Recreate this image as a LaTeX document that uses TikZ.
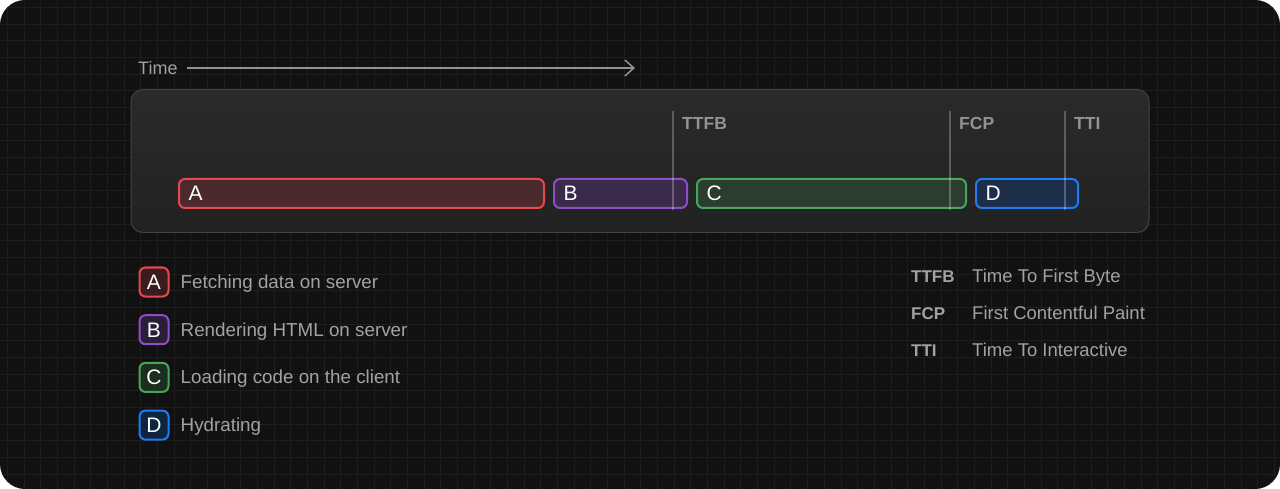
\documentclass[tikz,border=0pt]{standalone}
\usepackage{fontspec}
\setmainfont{Liberation Sans}
\usepackage{xcolor}
\usepackage{tikz}
\usetikzlibrary{positioning, arrows.meta}

\definecolor{bgdark}{HTML}{111111}
\definecolor{gridline}{HTML}{1E1E1E}
\definecolor{paneltop}{HTML}{2A2A2A}
\definecolor{panelbot}{HTML}{222222}
\definecolor{panelline}{HTML}{434343}
\definecolor{softgray}{HTML}{A2A2A2}
\definecolor{markgray}{HTML}{939393}
\definecolor{ared}{HTML}{E5484D}
\definecolor{aredfill}{HTML}{4A2A2D}
\definecolor{aredkey}{HTML}{3A1C1F}
\definecolor{bpurple}{HTML}{8E4EC6}
\definecolor{bpurplefill}{HTML}{3A2B4A}
\definecolor{bpurplekey}{HTML}{2A1E3A}
\definecolor{cgreen}{HTML}{46A758}
\definecolor{cgreenfill}{HTML}{2B3D2E}
\definecolor{cgreenkey}{HTML}{1B2E1F}
\definecolor{dblue}{HTML}{1F7CF0}
\definecolor{dbluefill}{HTML}{1C2E4A}
\definecolor{dbluekey}{HTML}{0F2440}

\begin{document}
\begin{tikzpicture}[x=1pt, y=-1pt,
    bar/.style={draw, line width=2pt, rounded corners=6pt, minimum height=29pt, inner sep=0pt},
    barletter/.style={text=white, font=\fontsize{21}{24}\selectfont, inner sep=0pt, text height=15pt, text depth=0pt},
    keybox/.style={draw, line width=2pt, rounded corners=6pt, minimum size=29pt, inner sep=0pt, text=white, font=\fontsize{21}{24}\selectfont, text height=15pt, text depth=0pt},
    legendtext/.style={text=softgray, font=\fontsize{18.8}{22}\selectfont, inner sep=0pt, text height=13pt, text depth=0pt},
    marker/.style={draw=white, draw opacity=0.25, line width=2pt},
    markerlabel/.style={text=markgray, font=\bfseries\fontsize{17.5}{21}\selectfont, inner sep=0pt, anchor=base west},
    abbrev/.style={text=softgray, font=\bfseries\fontsize{17}{21}\selectfont, inner sep=0pt, anchor=base west},
    meaning/.style={text=softgray, font=\fontsize{18.5}{22}\selectfont, inner sep=0pt, anchor=base west}]
    \useasboundingbox (0,0) rectangle (1280,489);

    % dark card with grid
    \fill[white] (0,0) rectangle (1280,489);
    \begin{scope}
        \clip[rounded corners=25pt] (0,0) rectangle (1280,489);
        \fill[bgdark] (0,0) rectangle (1280,489);
        \foreach \i in {0,...,76} \draw[gridline, line width=1pt] (7.5+\i*16.67,0) -- ++(0,489);
        \foreach \j in {0,...,29} \draw[gridline, line width=1pt] (0,7.5+\j*16.67) -- ++(1280,0);
    \end{scope}

    % time axis
    \node (time) [anchor=base west, inner sep=0pt, text=softgray, font=\fontsize{18}{22}\selectfont] at (138,75) {Time};
    \coordinate (timeend) at (635,68);
    \draw[markgray, line width=1.5pt, -{Straight Barb[length=9pt, width=16pt, line width=1.5pt]}] ([xshift=9pt]time.east |- timeend) -- (timeend);

    % panel
    \node (panel) [draw=panelline, line width=1pt, rounded corners=12pt, top color=paneltop, bottom color=panelbot, minimum width=1018pt, minimum height=143pt] at (640,161) {};

    % bars
    \node (barA) [bar, draw=ared, fill=aredfill, minimum width=365pt] at (361.5,193.5) {};
    \node (barB) [bar, draw=bpurple, fill=bpurplefill, minimum width=133pt] at (620.5,193.5) {};
    \node (barC) [bar, draw=cgreen, fill=cgreenfill, minimum width=269pt] at (831.5,193.5) {};
    \node (barD) [bar, draw=dblue, fill=dbluefill, minimum width=102pt] at (1027,193.5) {};
    \foreach \b in {A,B,C,D}
        \node (letter\b) [barletter, right=10.5pt of bar\b.west] {\b};

    % milestones
    \foreach \x/\name/\lbl in {673/ttfb/TTFB, 950/fcp/FCP, 1065/tti/TTI} {
        \coordinate (\name top) at (\x,111);
        \coordinate (\name bot) at (\x,210);
        \draw[marker] (\name top) -- (\name bot);
        \node (\name lbl) [markerlabel] at (\x+9,129.3) {\lbl};
    }

    % legend, phases
    \foreach \l/\txt/\c [count=\i] in {A/Fetching data on server/ared, B/Rendering HTML on server/bpurple,
                                       C/Loading code on the client/cgreen, D/Hydrating/dblue} {
        \node (key\l) [keybox, draw=\c, fill=\c key] at (154,282+47.7*\i-47.7) {\l};
        \node (keytxt\l) [legendtext, right=11pt of key\l] {\txt};
    }

    % legend, milestones
    \foreach \ab/\txt [count=\i] in {TTFB/Time To First Byte, FCP/First Contentful Paint, TTI/Time To Interactive} {
        \node (ab\i) [abbrev] at (911,282.5+36.75*\i-36.75) {\ab};
        \node (abtxt\i) [meaning] at (972,282.5+36.75*\i-36.75) {\txt};
    }
\end{tikzpicture}
\end{document}
